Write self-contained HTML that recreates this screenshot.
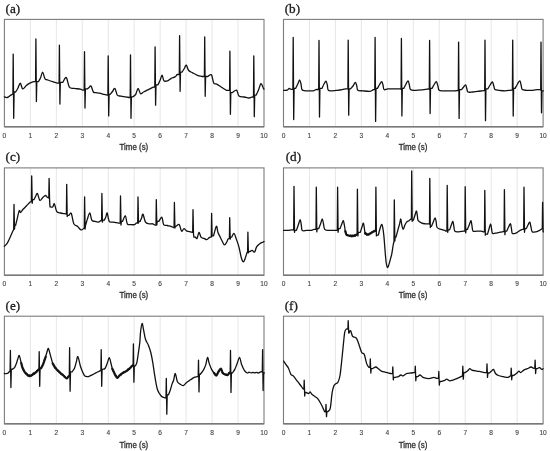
<!DOCTYPE html>
<html><head><meta charset="utf-8"><style>
html,body{margin:0;padding:0;background:#fff;}
svg{display:block;}
.gr{stroke:#e6e6e6;stroke-width:1;}
.fr{fill:none;stroke:#7c7c7c;stroke-width:1.1;}
.ax{stroke:#787878;stroke-width:1.5;}
.tk{font-family:"Liberation Sans",sans-serif;font-size:6.6px;fill:#444;stroke:#444;stroke-width:0.12;text-anchor:middle;}
.tt{font-family:"Liberation Sans",sans-serif;font-size:8.6px;fill:#333;stroke:#333;stroke-width:0.35;text-anchor:middle;}
.lb{font-family:"Liberation Serif",serif;font-size:13.2px;fill:#1a1a1a;stroke:#1a1a1a;stroke-width:0.3;}
.tr{fill:none;stroke:#111;stroke-width:1.3;stroke-linejoin:round;stroke-linecap:round;}
.nz{fill:none;stroke:#111;stroke-width:2.3;stroke-linejoin:round;stroke-linecap:round;opacity:0.9;}
</style></head><body>
<svg width="550" height="451" viewBox="0 0 550 451">
<line x1="30.36" y1="19.40" x2="30.36" y2="126.70" class="gr"/>
<line x1="56.32" y1="19.40" x2="56.32" y2="126.70" class="gr"/>
<line x1="82.28" y1="19.40" x2="82.28" y2="126.70" class="gr"/>
<line x1="108.24" y1="19.40" x2="108.24" y2="126.70" class="gr"/>
<line x1="134.20" y1="19.40" x2="134.20" y2="126.70" class="gr"/>
<line x1="160.16" y1="19.40" x2="160.16" y2="126.70" class="gr"/>
<line x1="186.12" y1="19.40" x2="186.12" y2="126.70" class="gr"/>
<line x1="212.08" y1="19.40" x2="212.08" y2="126.70" class="gr"/>
<line x1="238.04" y1="19.40" x2="238.04" y2="126.70" class="gr"/>
<rect x="4.40" y="19.40" width="259.60" height="107.30" class="fr"/>
<line x1="4.40" y1="126.70" x2="264.00" y2="126.70" class="ax"/>
<text x="4.40" y="138.00" class="tk">0</text>
<text x="30.36" y="138.00" class="tk">1</text>
<text x="56.32" y="138.00" class="tk">2</text>
<text x="82.28" y="138.00" class="tk">3</text>
<text x="108.24" y="138.00" class="tk">4</text>
<text x="134.20" y="138.00" class="tk">5</text>
<text x="160.16" y="138.00" class="tk">6</text>
<text x="186.12" y="138.00" class="tk">7</text>
<text x="212.08" y="138.00" class="tk">8</text>
<text x="238.04" y="138.00" class="tk">9</text>
<text x="264.00" y="138.00" class="tk">10</text>
<text x="133.90" y="150.40" class="tt" textLength="28.6" lengthAdjust="spacingAndGlyphs">Time (s)</text>
<text x="5.60" y="13.00" class="lb">(a)</text>
<path d="M4.30,96.80 C5.27,97.03 6.12,97.78 7.20,97.50 C8.28,97.22 9.87,95.68 10.80,95.10 C11.73,94.52 12.13,94.37 12.80,94.00 L12.90,94.00 L13.20,54.10 L13.70,118.30 L14.10,92.00 L15.60,92.00 C16.40,90.67 17.22,89.48 18.00,88.00 C18.78,86.52 19.52,82.95 20.30,83.10 C21.08,83.25 21.70,88.50 22.70,88.90 C23.70,89.30 25.10,86.47 26.30,85.50 C27.50,84.53 28.70,83.73 29.90,83.10 C31.10,82.47 32.30,82.17 33.50,81.70 L35.60,81.70 L35.90,39.00 L36.40,101.60 L36.80,81.70 L38.30,81.70 C39.03,80.47 39.78,79.60 40.50,78.00 C41.22,76.40 41.85,71.97 42.60,72.10 C43.35,72.23 44.12,77.48 45.00,78.80 C45.88,80.12 46.62,79.52 47.90,80.00 C49.18,80.48 51.12,81.18 52.70,81.70 C54.28,82.22 55.83,82.63 57.40,83.10 L59.10,83.10 L59.40,45.20 L59.90,104.00 L60.30,82.40 L62.70,82.40 C63.90,80.80 65.18,76.80 66.30,77.60 C67.42,78.40 68.08,85.40 69.40,87.20 C70.72,89.00 72.40,88.08 74.20,88.40 C76.00,88.72 78.80,88.82 80.20,89.10 C81.60,89.38 81.80,89.77 82.60,90.10 L84.20,90.10 L84.50,51.70 L85.00,108.00 L85.40,88.90 L87.40,88.90 C87.93,88.43 88.40,87.98 89.00,87.50 C89.60,87.02 90.27,85.25 91.00,86.00 C91.73,86.75 92.60,90.88 93.40,92.00 C94.20,93.12 94.80,92.50 95.80,92.70 C96.80,92.90 98.02,92.92 99.40,93.20 C100.78,93.48 102.83,94.08 104.10,94.40 C105.37,94.72 106.03,94.87 107.00,95.10 L107.90,95.10 L108.20,55.80 L108.70,115.90 L109.10,94.40 L110.10,94.40 C110.90,93.43 111.70,92.50 112.50,91.50 C113.30,90.50 114.10,87.80 114.90,88.40 C115.70,89.00 116.30,93.82 117.30,95.10 C118.30,96.38 119.50,95.82 120.90,96.10 C122.30,96.38 124.30,96.57 125.70,96.80 C127.10,97.03 128.10,97.27 129.30,97.50 L130.20,97.50 L130.50,54.80 L131.00,118.30 L131.40,96.80 L132.90,96.80 C133.83,96.00 134.83,95.80 135.70,94.40 C136.57,93.00 137.30,88.52 138.10,88.40 C138.90,88.28 139.58,93.10 140.50,93.70 C141.42,94.30 142.28,92.68 143.60,92.00 C144.92,91.32 146.80,90.40 148.40,89.60 C150.00,88.80 151.60,88.00 153.20,87.20 L154.80,87.20 L155.10,46.90 L155.60,105.20 L156.00,84.80 L158.00,84.80 C158.73,83.20 159.52,81.60 160.20,80.00 C160.88,78.40 161.47,75.07 162.10,75.20 C162.73,75.33 163.08,79.87 164.00,80.80 C164.92,81.73 166.40,81.20 167.60,80.80 C168.80,80.40 169.97,79.05 171.20,78.40 C172.43,77.75 174.00,77.55 175.00,76.90 C176.00,76.25 176.47,75.30 177.20,74.50 L179.30,74.50 L179.60,35.70 L180.10,91.30 L180.50,72.10 L182.00,72.10 C182.77,70.90 183.58,69.65 184.30,68.50 C185.02,67.35 185.57,64.87 186.30,65.20 C187.03,65.53 187.63,69.22 188.70,70.50 C189.77,71.78 191.23,72.10 192.70,72.90 C194.17,73.70 195.90,74.70 197.50,75.30 C199.10,75.90 200.70,76.10 202.30,76.50 L204.40,76.50 L204.70,36.90 L205.20,96.30 L205.60,76.50 L207.80,76.50 C209.00,75.93 210.40,73.68 211.40,74.80 C212.40,75.92 212.92,81.65 213.80,83.20 C214.68,84.75 215.42,83.43 216.70,84.10 C217.98,84.77 219.90,86.17 221.50,87.20 C223.10,88.23 224.70,89.27 226.30,90.30 L229.60,90.30 L229.90,51.20 L230.40,114.30 L230.80,92.70 L232.20,92.70 C233.67,91.83 235.47,89.53 236.60,90.10 C237.73,90.67 237.73,94.95 239.00,96.10 C240.27,97.25 242.53,96.68 244.20,97.00 C245.87,97.32 247.70,98.00 249.00,98.00 C250.30,98.00 251.00,97.33 252.00,97.00 L253.50,97.00 L253.80,55.80 L254.30,116.70 L254.70,95.10 L256.20,95.10 C256.97,93.40 257.70,91.92 258.50,90.00 C259.30,88.08 260.18,83.87 261.00,83.60 C261.82,83.33 262.90,87.50 263.40,88.40 C263.90,89.30 263.80,88.80 264.00,89.00" class="tr"/>
<line x1="309.46" y1="19.40" x2="309.46" y2="126.70" class="gr"/>
<line x1="335.42" y1="19.40" x2="335.42" y2="126.70" class="gr"/>
<line x1="361.38" y1="19.40" x2="361.38" y2="126.70" class="gr"/>
<line x1="387.34" y1="19.40" x2="387.34" y2="126.70" class="gr"/>
<line x1="413.30" y1="19.40" x2="413.30" y2="126.70" class="gr"/>
<line x1="439.26" y1="19.40" x2="439.26" y2="126.70" class="gr"/>
<line x1="465.22" y1="19.40" x2="465.22" y2="126.70" class="gr"/>
<line x1="491.18" y1="19.40" x2="491.18" y2="126.70" class="gr"/>
<line x1="517.14" y1="19.40" x2="517.14" y2="126.70" class="gr"/>
<rect x="283.50" y="19.40" width="259.60" height="107.30" class="fr"/>
<line x1="283.50" y1="126.70" x2="543.10" y2="126.70" class="ax"/>
<text x="283.50" y="138.00" class="tk">0</text>
<text x="309.46" y="138.00" class="tk">1</text>
<text x="335.42" y="138.00" class="tk">2</text>
<text x="361.38" y="138.00" class="tk">3</text>
<text x="387.34" y="138.00" class="tk">4</text>
<text x="413.30" y="138.00" class="tk">5</text>
<text x="439.26" y="138.00" class="tk">6</text>
<text x="465.22" y="138.00" class="tk">7</text>
<text x="491.18" y="138.00" class="tk">8</text>
<text x="517.14" y="138.00" class="tk">9</text>
<text x="543.10" y="138.00" class="tk">10</text>
<text x="413.00" y="150.40" class="tt" textLength="28.6" lengthAdjust="spacingAndGlyphs">Time (s)</text>
<text x="284.70" y="13.00" class="lb">(b)</text>
<path d="M283.60,90.30 C284.80,90.23 286.27,90.40 287.20,90.10 C288.13,89.80 288.65,88.65 289.20,88.50 C289.75,88.35 289.95,89.07 290.50,89.20 C291.05,89.33 291.83,89.27 292.50,89.30 L292.90,89.30 L293.20,37.40 L293.70,119.50 L294.10,88.40 L295.60,88.40 C296.33,86.93 297.13,85.40 297.80,84.00 C298.47,82.60 299.07,80.00 299.60,80.00 C300.13,80.00 300.60,82.40 301.00,84.00 C301.40,85.60 301.32,88.47 302.00,89.60 C302.68,90.73 303.98,90.60 305.10,90.80 C306.22,91.00 307.30,90.80 308.70,90.80 C310.10,90.80 312.30,91.00 313.50,90.80 C314.70,90.60 315.15,89.82 315.90,89.60 C316.65,89.38 317.30,89.53 318.00,89.50 L318.70,89.50 L319.00,40.50 L319.50,117.10 L319.90,88.40 L321.90,88.40 C322.60,86.93 323.32,85.20 324.00,84.00 C324.68,82.80 325.45,81.03 326.00,81.20 C326.55,81.37 326.92,83.48 327.30,85.00 C327.68,86.52 327.40,89.33 328.30,90.30 C329.20,91.27 331.18,90.80 332.70,90.80 C334.22,90.80 335.82,90.50 337.40,90.30 C338.98,90.10 340.80,89.83 342.20,89.60 C343.60,89.37 344.92,89.03 345.80,88.90 C346.68,88.77 346.93,88.83 347.50,88.80 L347.90,88.80 L348.20,40.20 L348.70,115.20 L349.10,88.90 L350.60,88.90 C351.40,87.93 352.20,87.08 353.00,86.00 C353.80,84.92 354.77,82.40 355.40,82.40 C356.03,82.40 356.40,84.68 356.80,86.00 C357.20,87.32 356.83,89.50 357.80,90.30 C358.77,91.10 360.57,90.63 362.60,90.80 C364.63,90.97 368.20,91.50 370.00,91.30 C371.80,91.10 372.27,90.17 373.40,89.60 L374.80,89.60 L375.10,37.40 L375.60,121.40 L376.00,88.40 L377.40,88.40 C378.13,87.10 378.87,85.62 379.60,84.50 C380.33,83.38 381.23,81.62 381.80,81.70 C382.37,81.78 382.62,83.68 383.00,85.00 C383.38,86.32 383.32,88.95 384.10,89.60 C384.88,90.25 386.30,89.02 387.70,88.90 C389.10,88.78 390.70,88.90 392.50,88.90 C394.30,88.90 397.17,88.88 398.50,88.90 C399.83,88.92 399.83,88.97 400.50,89.00 L401.10,89.00 L401.40,38.50 L401.90,115.90 L402.30,88.40 L403.80,88.40 C404.53,86.93 405.28,85.27 406.00,84.00 C406.72,82.73 407.53,80.63 408.10,80.80 C408.67,80.97 409.00,83.53 409.40,85.00 C409.80,86.47 409.52,88.72 410.50,89.60 C411.48,90.48 413.32,90.27 415.30,90.30 C417.28,90.33 420.42,90.00 422.40,89.80 C424.38,89.60 426.13,89.23 427.20,89.10 C428.27,88.97 428.27,89.03 428.80,89.00 L429.30,89.00 L429.60,40.50 L430.10,113.50 L430.50,88.40 L432.00,88.40 C432.73,87.10 433.48,85.62 434.20,84.50 C434.92,83.38 435.70,81.53 436.30,81.70 C436.90,81.87 437.32,84.07 437.80,85.50 C438.28,86.93 438.17,89.42 439.20,90.30 C440.23,91.18 442.00,90.72 444.00,90.80 C446.00,90.88 449.40,90.80 451.20,90.80 C453.00,90.80 453.70,90.85 454.80,90.80 C455.90,90.75 456.80,90.60 457.80,90.50 L458.30,90.50 L458.60,42.10 L459.10,118.40 L459.50,89.60 L461.50,89.60 C462.20,88.73 462.92,87.80 463.60,87.00 C464.28,86.20 465.07,84.55 465.60,84.80 C466.13,85.05 466.40,87.30 466.80,88.50 C467.20,89.70 467.02,91.42 468.00,92.00 C468.98,92.58 471.12,92.12 472.70,92.00 C474.28,91.88 475.90,91.50 477.50,91.30 C479.10,91.10 481.18,90.93 482.30,90.80 C483.42,90.67 483.57,90.60 484.20,90.50 L484.70,90.50 L485.00,40.20 L485.50,120.70 L485.90,88.90 L487.80,88.90 C488.57,87.60 489.33,86.15 490.10,85.00 C490.87,83.85 491.78,81.83 492.40,82.00 C493.02,82.17 493.37,84.73 493.80,86.00 C494.23,87.27 494.12,88.88 495.00,89.60 C495.88,90.32 497.42,90.10 499.10,90.30 C500.78,90.50 503.30,90.80 505.10,90.80 C506.90,90.80 508.75,90.43 509.90,90.30 C511.05,90.17 511.30,90.10 512.00,90.00 L512.40,90.00 L512.70,40.20 L513.20,116.00 L513.60,88.40 L515.10,88.40 C515.90,86.93 516.70,85.27 517.50,84.00 C518.30,82.73 519.28,80.55 519.90,80.80 C520.52,81.05 520.80,84.03 521.20,85.50 C521.60,86.97 521.40,88.80 522.30,89.60 C523.20,90.40 524.88,90.18 526.60,90.30 C528.32,90.42 530.80,90.42 532.60,90.30 C534.40,90.18 536.13,89.68 537.40,89.60 C538.67,89.52 539.27,89.73 540.20,89.80 L540.70,89.80 L541.00,42.10 L541.50,112.80 L541.90,90.80 L543.40,90.80" class="tr"/>
<line x1="30.36" y1="167.90" x2="30.36" y2="275.30" class="gr"/>
<line x1="56.32" y1="167.90" x2="56.32" y2="275.30" class="gr"/>
<line x1="82.28" y1="167.90" x2="82.28" y2="275.30" class="gr"/>
<line x1="108.24" y1="167.90" x2="108.24" y2="275.30" class="gr"/>
<line x1="134.20" y1="167.90" x2="134.20" y2="275.30" class="gr"/>
<line x1="160.16" y1="167.90" x2="160.16" y2="275.30" class="gr"/>
<line x1="186.12" y1="167.90" x2="186.12" y2="275.30" class="gr"/>
<line x1="212.08" y1="167.90" x2="212.08" y2="275.30" class="gr"/>
<line x1="238.04" y1="167.90" x2="238.04" y2="275.30" class="gr"/>
<rect x="4.40" y="167.90" width="259.60" height="107.40" class="fr"/>
<line x1="4.40" y1="275.30" x2="264.00" y2="275.30" class="ax"/>
<text x="4.40" y="285.70" class="tk">0</text>
<text x="30.36" y="285.70" class="tk">1</text>
<text x="56.32" y="285.70" class="tk">2</text>
<text x="82.28" y="285.70" class="tk">3</text>
<text x="108.24" y="285.70" class="tk">4</text>
<text x="134.20" y="285.70" class="tk">5</text>
<text x="160.16" y="285.70" class="tk">6</text>
<text x="186.12" y="285.70" class="tk">7</text>
<text x="212.08" y="285.70" class="tk">8</text>
<text x="238.04" y="285.70" class="tk">9</text>
<text x="264.00" y="285.70" class="tk">10</text>
<text x="133.90" y="298.10" class="tt" textLength="28.6" lengthAdjust="spacingAndGlyphs">Time (s)</text>
<text x="5.60" y="160.80" class="lb">(c)</text>
<path d="M4.40,246.30 C5.37,245.27 6.42,244.53 7.30,243.20 C8.18,241.87 8.90,240.03 9.70,238.30 C10.50,236.57 11.45,234.28 12.10,232.80 C12.75,231.32 13.10,230.53 13.60,229.40 L13.70,229.40 L14.00,204.40 L14.50,229.00 L14.90,225.00 L15.70,225.00 C16.27,222.60 16.80,220.22 17.40,217.80 C18.00,215.38 18.77,211.38 19.30,210.50 C19.83,209.62 19.98,212.70 20.60,212.50 C21.22,212.30 22.00,210.43 23.00,209.30 C24.00,208.17 25.40,206.90 26.60,205.70 C27.80,204.50 29.42,202.80 30.20,202.10 C30.98,201.40 30.93,201.70 31.30,201.50 L31.40,201.50 L31.70,175.90 L32.20,203.30 L32.60,199.60 L33.90,199.60 C34.53,198.40 35.20,197.00 35.80,196.00 C36.40,195.00 36.82,192.87 37.50,193.60 C38.18,194.33 38.98,199.80 39.90,200.40 C40.82,201.00 42.07,198.02 43.00,197.20 C43.93,196.38 44.80,195.50 45.50,195.50 C46.20,195.50 46.67,196.78 47.20,197.20 C47.73,197.62 48.20,197.73 48.70,198.00 L48.80,198.00 L49.10,178.30 L49.60,200.90 L50.00,206.90 L50.30,206.90 C51.10,206.90 52.02,207.42 52.70,206.90 C53.38,206.38 53.72,203.00 54.40,203.80 C55.08,204.60 55.78,210.17 56.80,211.70 C57.82,213.23 59.28,212.67 60.50,213.00 C61.72,213.33 63.13,213.53 64.10,213.70 C65.07,213.87 65.57,213.90 66.30,214.00 L66.40,214.00 L66.70,184.30 L67.20,216.60 L67.60,215.40 L68.90,215.40 C69.70,214.73 70.48,212.00 71.30,213.40 C72.12,214.80 72.78,221.65 73.80,223.80 C74.82,225.95 76.20,225.28 77.40,226.30 C78.60,227.32 80.00,229.50 81.00,229.90 C82.00,230.30 82.87,229.02 83.40,228.70 C83.93,228.38 83.93,228.23 84.20,228.00 L84.30,228.00 L84.60,196.90 L85.10,229.00 L85.50,225.00 L85.70,225.00 C86.27,223.00 86.72,221.00 87.40,219.00 C88.08,217.00 89.07,212.80 89.80,213.00 C90.53,213.20 90.98,218.80 91.80,220.20 C92.62,221.60 93.62,221.08 94.70,221.40 C95.78,221.72 97.30,222.22 98.30,222.10 C99.30,221.98 100.17,220.97 100.70,220.70 C101.23,220.43 101.23,220.57 101.50,220.50 L101.60,220.50 L101.90,193.50 L102.40,222.00 L102.80,220.20 L104.30,220.20 C104.80,219.13 105.32,218.20 105.80,217.00 C106.28,215.80 106.63,212.27 107.20,213.00 C107.77,213.73 108.27,219.88 109.20,221.40 C110.13,222.92 111.60,221.90 112.80,222.10 C114.00,222.30 115.38,222.43 116.40,222.60 C117.42,222.77 118.28,223.03 118.90,223.10 C119.52,223.17 119.70,223.03 120.10,223.00 L120.20,223.00 L120.50,195.90 L121.00,225.00 L121.40,221.40 L122.50,221.40 C123.47,219.57 124.60,215.50 125.40,215.90 C126.20,216.30 126.37,222.35 127.30,223.80 C128.23,225.25 129.78,224.47 131.00,224.60 C132.22,224.73 133.72,224.85 134.60,224.60 C135.48,224.35 135.80,223.37 136.30,223.10 C136.80,222.83 137.17,223.03 137.60,223.00 L137.70,223.00 L138.00,196.90 L138.50,223.10 L138.90,221.40 L140.10,221.40 C140.60,220.27 141.12,219.20 141.60,218.00 C142.08,216.80 142.35,213.52 143.00,214.20 C143.65,214.88 144.48,220.50 145.50,222.10 C146.52,223.70 147.90,223.52 149.10,223.80 C150.30,224.08 151.78,223.60 152.70,223.80 C153.62,224.00 154.07,224.80 154.60,225.00 C155.13,225.20 155.47,225.00 155.90,225.00 L156.00,225.00 L156.30,199.60 L156.80,225.00 L157.20,221.40 L158.80,221.40 C159.83,220.03 161.10,216.77 161.90,217.30 C162.70,217.83 162.72,223.23 163.60,224.60 C164.48,225.97 165.98,225.22 167.20,225.50 C168.42,225.78 169.88,225.97 170.90,226.30 C171.92,226.63 172.78,227.38 173.30,227.50 C173.82,227.62 173.77,227.17 174.00,227.00 L174.10,227.00 L174.40,202.50 L174.90,228.00 L175.30,226.30 L176.00,226.30 C177.07,225.73 178.27,223.80 179.20,224.60 C180.13,225.40 180.80,230.42 181.60,231.10 C182.40,231.78 183.12,228.70 184.00,228.70 C184.88,228.70 185.80,230.58 186.90,231.10 C188.00,231.62 189.72,231.60 190.60,231.80 C191.48,232.00 191.87,232.22 192.20,232.30 C192.53,232.38 192.47,232.30 192.60,232.30 L192.70,232.30 L193.00,209.70 L193.50,234.00 L193.90,237.10 L195.40,237.10 C195.97,237.50 196.50,239.10 197.10,238.30 C197.70,237.50 198.35,232.50 199.00,232.30 C199.65,232.10 200.18,236.10 201.00,237.10 C201.82,238.10 202.93,237.88 203.90,238.30 C204.87,238.72 205.92,239.72 206.80,239.60 C207.68,239.48 208.57,238.02 209.20,237.60 C209.83,237.18 210.27,237.20 210.60,237.10 C210.93,237.00 211.00,237.03 211.20,237.00 L211.30,237.00 L211.60,213.40 L212.10,236.00 L212.50,235.90 L213.50,235.90 C214.47,232.70 215.67,226.90 216.40,226.30 C217.13,225.70 217.37,230.70 217.90,232.30 C218.43,233.90 218.92,234.48 219.60,235.90 C220.28,237.32 221.20,239.30 222.00,240.80 C222.80,242.30 223.60,244.70 224.40,244.90 C225.20,245.10 226.20,242.97 226.80,242.00 C227.40,241.03 227.58,239.68 228.00,239.10 C228.42,238.52 228.87,238.70 229.30,238.50 L229.40,238.50 L229.70,217.70 L230.20,239.00 L230.60,237.10 L231.70,237.10 C232.50,235.90 233.30,233.08 234.10,233.50 C234.90,233.92 235.70,237.38 236.50,239.60 C237.30,241.82 238.10,243.78 238.90,246.80 C239.70,249.82 240.57,255.20 241.30,257.70 C242.03,260.20 242.68,261.60 243.30,261.80 C243.92,262.00 244.40,260.38 245.00,258.90 C245.60,257.42 246.48,253.97 246.90,252.90 C247.32,251.83 247.30,252.63 247.50,252.50 L247.60,252.50 L247.90,232.20 L248.40,252.90 L248.80,251.60 L249.80,251.60 C250.60,251.20 251.40,250.32 252.20,250.40 C253.00,250.48 253.87,252.70 254.60,252.10 C255.33,251.50 255.78,248.17 256.60,246.80 C257.42,245.43 258.42,244.70 259.50,243.90 C260.58,243.10 262.35,242.40 263.10,242.00 C263.85,241.60 263.70,241.67 264.00,241.50" class="tr"/>
<line x1="309.46" y1="167.90" x2="309.46" y2="275.30" class="gr"/>
<line x1="335.42" y1="167.90" x2="335.42" y2="275.30" class="gr"/>
<line x1="361.38" y1="167.90" x2="361.38" y2="275.30" class="gr"/>
<line x1="387.34" y1="167.90" x2="387.34" y2="275.30" class="gr"/>
<line x1="413.30" y1="167.90" x2="413.30" y2="275.30" class="gr"/>
<line x1="439.26" y1="167.90" x2="439.26" y2="275.30" class="gr"/>
<line x1="465.22" y1="167.90" x2="465.22" y2="275.30" class="gr"/>
<line x1="491.18" y1="167.90" x2="491.18" y2="275.30" class="gr"/>
<line x1="517.14" y1="167.90" x2="517.14" y2="275.30" class="gr"/>
<rect x="283.50" y="167.90" width="259.60" height="107.40" class="fr"/>
<line x1="283.50" y1="275.30" x2="543.10" y2="275.30" class="ax"/>
<text x="283.50" y="285.70" class="tk">0</text>
<text x="309.46" y="285.70" class="tk">1</text>
<text x="335.42" y="285.70" class="tk">2</text>
<text x="361.38" y="285.70" class="tk">3</text>
<text x="387.34" y="285.70" class="tk">4</text>
<text x="413.30" y="285.70" class="tk">5</text>
<text x="439.26" y="285.70" class="tk">6</text>
<text x="465.22" y="285.70" class="tk">7</text>
<text x="491.18" y="285.70" class="tk">8</text>
<text x="517.14" y="285.70" class="tk">9</text>
<text x="543.10" y="285.70" class="tk">10</text>
<text x="413.00" y="298.10" class="tt" textLength="28.6" lengthAdjust="spacingAndGlyphs">Time (s)</text>
<text x="285.70" y="160.80" class="lb">(d)</text>
<path d="M283.60,230.40 C284.83,230.40 285.88,230.48 287.30,230.40 C288.72,230.32 291.05,229.97 292.10,229.90 C293.15,229.83 293.10,229.97 293.60,230.00 L293.70,230.00 L294.00,186.30 L294.50,232.30 L294.90,230.40 L296.40,230.40 C297.03,228.60 297.68,226.78 298.30,225.00 C298.92,223.22 299.60,219.70 300.10,219.70 C300.60,219.70 300.95,223.22 301.30,225.00 C301.65,226.78 301.32,229.50 302.20,230.40 C303.08,231.30 305.07,230.40 306.60,230.40 C308.13,230.40 310.18,230.57 311.40,230.40 C312.62,230.23 313.15,229.58 313.90,229.40 C314.65,229.22 315.23,229.33 315.90,229.30 L316.00,229.30 L316.30,187.20 L316.80,231.80 L317.20,228.70 L318.70,228.70 C319.30,227.13 319.90,225.62 320.50,224.00 C321.10,222.38 321.80,219.00 322.30,219.00 C322.80,219.00 323.10,222.27 323.50,224.00 C323.90,225.73 323.88,228.33 324.70,229.40 C325.52,230.47 326.98,230.23 328.40,230.40 C329.82,230.57 332.00,230.40 333.20,230.40 C334.40,230.40 334.93,230.42 335.60,230.40 C336.27,230.38 336.67,230.33 337.20,230.30 L337.30,230.30 L337.60,187.20 L338.10,232.30 L338.50,228.70 L340.00,228.70 C340.60,227.13 341.23,225.33 341.80,224.00 C342.37,222.67 342.95,220.37 343.40,220.70 C343.85,221.03 344.18,224.27 344.50,226.00 C344.82,227.73 345.07,230.06 345.30,231.10 C345.53,232.14 345.70,231.64 345.90,232.24 C346.10,232.84 346.32,234.16 346.50,234.70 C346.68,235.24 346.80,235.35 346.95,235.48 C347.10,235.60 347.25,235.60 347.40,235.47 C347.55,235.35 347.70,234.74 347.85,234.71 C348.00,234.68 348.15,235.18 348.30,235.29 C348.45,235.40 348.60,235.26 348.75,235.36 C348.90,235.46 349.05,235.72 349.20,235.87 C349.35,236.02 349.50,236.27 349.65,236.27 C349.80,236.27 349.95,236.08 350.10,235.90 C350.25,235.72 350.41,235.31 350.56,235.17 C350.72,235.03 350.87,234.83 351.03,235.05 C351.18,235.27 351.33,236.38 351.49,236.50 C351.64,236.63 351.80,235.80 351.95,235.78 C352.10,235.76 352.26,236.50 352.41,236.37 C352.57,236.24 352.72,235.10 352.88,235.00 C353.03,234.91 353.18,235.65 353.34,235.80 C353.49,235.95 353.64,235.86 353.80,235.90 C353.96,235.94 354.12,236.22 354.28,236.06 C354.44,235.90 354.60,234.94 354.76,234.93 C354.92,234.92 355.08,235.86 355.24,235.98 C355.40,236.10 355.56,235.88 355.72,235.66 C355.88,235.45 355.99,234.89 356.20,234.70 C356.41,234.51 356.73,234.57 357.00,234.50 L357.10,234.50 L357.40,189.20 L357.90,235.90 L358.30,232.30 L360.30,232.30 C360.87,230.53 361.48,228.53 362.00,227.00 C362.52,225.47 363.02,222.93 363.40,223.10 C363.78,223.27 364.02,226.27 364.30,228.00 C364.58,229.73 364.89,232.70 365.10,233.50 C365.31,234.30 365.40,232.91 365.56,232.83 C365.71,232.74 365.86,232.78 366.01,232.99 C366.17,233.20 366.32,233.76 366.47,234.09 C366.62,234.42 366.78,234.97 366.93,234.98 C367.08,234.99 367.23,234.30 367.39,234.14 C367.54,233.98 367.69,233.93 367.84,234.02 C368.00,234.11 368.14,234.66 368.30,234.70 C368.46,234.74 368.63,234.50 368.80,234.26 C368.97,234.02 369.13,233.41 369.30,233.25 C369.47,233.09 369.63,233.28 369.80,233.30 C369.97,233.32 370.13,233.41 370.30,233.39 C370.47,233.37 370.63,233.35 370.80,233.19 C370.97,233.03 371.13,232.60 371.30,232.42 C371.47,232.24 371.63,232.14 371.80,232.12 C371.97,232.10 372.14,232.39 372.30,232.30 C372.46,232.21 372.62,231.65 372.78,231.55 C372.94,231.46 373.10,231.81 373.26,231.75 C373.42,231.69 373.58,231.41 373.74,231.20 C373.90,230.99 374.06,230.50 374.22,230.48 C374.38,230.46 374.49,231.01 374.70,231.10 C374.91,231.19 375.23,231.03 375.50,231.00 L375.60,231.00 L375.90,187.20 L376.40,235.90 L376.80,235.20 L378.30,235.20 C378.93,232.80 379.60,229.80 380.20,228.00 C380.80,226.20 381.43,224.23 381.90,224.40 C382.37,224.57 382.67,227.05 383.00,229.00 C383.33,230.95 383.62,233.27 383.90,236.10 C384.18,238.93 384.43,242.68 384.70,246.00 C384.97,249.32 385.23,253.08 385.50,256.00 C385.77,258.92 385.98,261.58 386.30,263.50 C386.62,265.42 387.03,267.12 387.40,267.50 C387.77,267.88 388.15,266.63 388.50,265.80 C388.85,264.97 389.13,263.80 389.50,262.50 C389.87,261.20 390.32,259.45 390.70,258.00 C391.08,256.55 391.38,255.97 391.80,253.80 C392.22,251.63 392.85,246.97 393.20,245.00 C393.55,243.03 393.67,243.00 393.90,242.00 L394.00,242.00 L394.30,200.00 L394.80,241.00 L395.20,237.10 L396.00,237.10 C396.53,235.10 397.00,233.32 397.60,231.10 C398.20,228.88 399.07,225.82 399.60,223.80 C400.13,221.78 400.43,218.80 400.80,219.00 C401.17,219.20 401.40,223.27 401.80,225.00 C402.20,226.73 402.68,229.40 403.20,229.40 C403.72,229.40 404.33,226.22 404.90,225.00 C405.47,223.78 405.92,222.82 406.60,222.10 C407.28,221.38 408.27,221.22 409.00,220.70 C409.73,220.18 410.62,219.28 411.00,219.00 C411.38,218.72 411.20,219.00 411.30,219.00 L411.40,219.00 L411.70,171.00 L412.20,221.40 L412.60,220.20 L413.40,220.20 C413.93,218.47 414.48,216.53 415.00,215.00 C415.52,213.47 416.10,210.83 416.50,211.00 C416.90,211.17 417.12,214.38 417.40,216.00 C417.68,217.62 417.47,219.52 418.20,220.70 C418.93,221.88 420.58,222.58 421.80,223.10 C423.02,223.62 424.40,223.68 425.50,223.80 C426.60,223.92 427.75,223.77 428.40,223.80 C429.05,223.83 429.07,223.93 429.40,224.00 L429.50,224.00 L429.80,178.30 L430.30,227.50 L430.70,226.30 L431.50,226.30 C432.10,224.87 432.70,223.42 433.30,222.00 C433.90,220.58 434.62,217.80 435.10,217.80 C435.58,217.80 435.87,220.38 436.20,222.00 C436.53,223.62 436.27,226.27 437.10,227.50 C437.93,228.73 439.92,228.92 441.20,229.40 C442.48,229.88 444.00,230.12 444.80,230.40 C445.60,230.68 445.67,231.00 446.00,231.10 C446.33,231.20 446.53,231.03 446.80,231.00 L446.90,231.00 L447.20,185.50 L447.70,232.30 L448.10,229.90 L449.60,229.90 C450.17,228.27 450.75,226.42 451.30,225.00 C451.85,223.58 452.48,221.23 452.90,221.40 C453.32,221.57 453.48,224.38 453.80,226.00 C454.12,227.62 454.02,230.13 454.80,231.10 C455.58,232.07 457.08,231.80 458.50,231.80 C459.92,231.80 462.25,231.23 463.30,231.10 C464.35,230.97 464.30,231.03 464.80,231.00 L464.90,231.00 L465.20,186.70 L465.70,232.80 L466.10,229.40 L467.40,229.40 C468.00,227.93 468.60,226.45 469.20,225.00 C469.80,223.55 470.53,220.53 471.00,220.70 C471.47,220.87 471.67,224.27 472.00,226.00 C472.33,227.73 472.23,230.25 473.00,231.10 C473.77,231.95 475.20,231.10 476.60,231.10 C478.00,231.10 480.27,230.98 481.40,231.10 C482.53,231.22 482.90,231.68 483.40,231.80 C483.90,231.92 484.07,231.80 484.40,231.80 L484.50,231.80 L484.80,190.40 L485.30,235.20 L485.70,234.20 L487.50,234.20 C488.00,232.47 488.48,230.73 489.00,229.00 C489.52,227.27 490.17,223.80 490.60,223.80 C491.03,223.80 491.27,227.38 491.60,229.00 C491.93,230.62 491.67,232.87 492.60,233.50 C493.53,234.13 495.63,233.08 497.20,232.80 C498.77,232.52 500.87,232.02 502.00,231.80 C503.13,231.58 503.33,231.60 504.00,231.50 L504.10,231.50 L504.40,189.60 L504.90,234.70 L505.30,231.10 L506.80,231.10 C507.40,229.73 507.98,228.22 508.60,227.00 C509.22,225.78 510.02,223.47 510.50,223.80 C510.98,224.13 511.18,227.38 511.50,229.00 C511.82,230.62 511.57,232.87 512.40,233.50 C513.23,234.13 515.22,233.32 516.50,232.80 C517.78,232.28 519.08,230.97 520.10,230.40 C521.12,229.83 522.02,229.58 522.60,229.40 C523.18,229.22 523.27,229.33 523.60,229.30 L523.70,229.30 L524.00,187.20 L524.50,232.30 L524.90,228.70 L526.20,228.70 C526.80,227.47 527.40,226.10 528.00,225.00 C528.60,223.90 529.30,221.77 529.80,222.10 C530.30,222.43 530.60,225.38 531.00,227.00 C531.40,228.62 531.38,231.00 532.20,231.80 C533.02,232.60 534.68,232.03 535.90,231.80 C537.12,231.57 538.50,230.92 539.50,230.40 C540.50,229.88 541.45,228.98 541.90,228.70 C542.35,228.42 542.10,228.70 542.20,228.70 L542.30,228.70 L542.60,202.50 L543.10,231.80 L543.50,231.80 L543.10,231.80" class="tr"/>
<path d="M345.30,231.10 C345.70,232.30 345.70,233.90 346.50,234.70 C347.30,235.50 348.88,235.70 350.10,235.90 C351.32,236.10 352.78,236.10 353.80,235.90 C354.82,235.70 355.80,234.90 356.20,234.70 C356.60,234.50 356.20,234.70 356.20,234.70" class="nz"/>
<path d="M365.10,233.50 C366.17,233.90 367.10,234.90 368.30,234.70 C369.50,234.50 371.23,232.90 372.30,232.30 C373.37,231.70 374.30,231.30 374.70,231.10 C375.10,230.90 374.70,231.10 374.70,231.10" class="nz"/>
<line x1="30.36" y1="316.20" x2="30.36" y2="423.80" class="gr"/>
<line x1="56.32" y1="316.20" x2="56.32" y2="423.80" class="gr"/>
<line x1="82.28" y1="316.20" x2="82.28" y2="423.80" class="gr"/>
<line x1="108.24" y1="316.20" x2="108.24" y2="423.80" class="gr"/>
<line x1="134.20" y1="316.20" x2="134.20" y2="423.80" class="gr"/>
<line x1="160.16" y1="316.20" x2="160.16" y2="423.80" class="gr"/>
<line x1="186.12" y1="316.20" x2="186.12" y2="423.80" class="gr"/>
<line x1="212.08" y1="316.20" x2="212.08" y2="423.80" class="gr"/>
<line x1="238.04" y1="316.20" x2="238.04" y2="423.80" class="gr"/>
<rect x="4.40" y="316.20" width="259.60" height="107.60" class="fr"/>
<line x1="4.40" y1="423.80" x2="264.00" y2="423.80" class="ax"/>
<text x="4.40" y="435.10" class="tk">0</text>
<text x="30.36" y="435.10" class="tk">1</text>
<text x="56.32" y="435.10" class="tk">2</text>
<text x="82.28" y="435.10" class="tk">3</text>
<text x="108.24" y="435.10" class="tk">4</text>
<text x="134.20" y="435.10" class="tk">5</text>
<text x="160.16" y="435.10" class="tk">6</text>
<text x="186.12" y="435.10" class="tk">7</text>
<text x="212.08" y="435.10" class="tk">8</text>
<text x="238.04" y="435.10" class="tk">9</text>
<text x="264.00" y="435.10" class="tk">10</text>
<text x="133.90" y="447.50" class="tt" textLength="28.6" lengthAdjust="spacingAndGlyphs">Time (s)</text>
<text x="5.60" y="309.80" class="lb">(e)</text>
<path d="M4.40,373.50 C5.37,373.50 6.50,373.78 7.30,373.50 C8.10,373.22 8.75,372.22 9.20,371.80 C9.65,371.38 9.73,371.27 10.00,371.00 L10.10,371.00 L10.40,350.50 L10.90,387.60 L11.30,369.40 L12.10,369.40 C12.90,368.83 13.78,368.70 14.50,367.70 C15.22,366.70 15.85,364.85 16.40,363.40 C16.95,361.95 17.32,360.30 17.80,359.00 C18.28,357.70 18.73,354.93 19.30,355.60 C19.87,356.27 20.81,361.60 21.20,363.00 C21.59,364.40 21.51,363.35 21.67,364.01 C21.82,364.67 21.98,366.29 22.13,366.96 C22.29,367.62 22.45,367.60 22.60,368.00 C22.75,368.40 22.91,369.12 23.06,369.33 C23.21,369.55 23.37,369.07 23.52,369.28 C23.67,369.49 23.83,370.23 23.98,370.57 C24.13,370.92 24.29,371.06 24.44,371.35 C24.59,371.64 24.74,372.01 24.90,372.30 C25.06,372.59 25.25,372.85 25.42,373.11 C25.59,373.38 25.77,373.89 25.94,373.90 C26.11,373.91 26.29,373.24 26.46,373.19 C26.63,373.14 26.81,373.31 26.98,373.61 C27.15,373.91 27.34,374.63 27.50,375.00 C27.66,375.37 27.81,375.76 27.96,375.80 C28.11,375.85 28.27,375.23 28.42,375.28 C28.57,375.32 28.73,376.13 28.88,376.07 C29.03,376.01 29.19,374.92 29.34,374.90 C29.49,374.89 29.64,375.87 29.80,376.00 C29.96,376.13 30.12,375.68 30.28,375.66 C30.44,375.65 30.60,376.06 30.76,375.92 C30.92,375.77 31.08,374.80 31.24,374.79 C31.40,374.78 31.56,375.84 31.72,375.84 C31.88,375.84 32.04,374.91 32.20,374.80 C32.36,374.69 32.51,375.46 32.66,375.21 C32.82,374.97 32.97,373.70 33.12,373.33 C33.28,372.96 33.43,372.96 33.59,373.01 C33.74,373.06 33.90,373.45 34.05,373.62 C34.20,373.79 34.36,374.18 34.51,374.03 C34.67,373.88 34.82,373.03 34.98,372.71 C35.13,372.39 35.28,372.17 35.44,372.10 C35.59,372.03 35.74,372.37 35.90,372.30 C36.06,372.23 36.22,371.98 36.38,371.68 C36.54,371.38 36.70,370.71 36.86,370.49 C37.02,370.27 37.18,370.40 37.34,370.36 C37.50,370.32 37.66,370.34 37.82,370.27 C37.98,370.19 38.18,370.00 38.30,369.90 C38.42,369.80 38.47,369.76 38.55,369.69 C38.63,369.63 38.72,369.56 38.80,369.50 L38.90,369.50 L39.20,351.70 L39.70,386.30 L40.10,368.20 L41.10,368.20 C41.26,367.74 41.42,367.20 41.58,366.82 C41.73,366.44 41.89,366.22 42.05,365.92 C42.21,365.61 42.37,365.21 42.52,364.99 C42.68,364.77 42.84,364.92 43.00,364.60 C43.16,364.28 43.33,363.62 43.50,363.07 C43.67,362.52 43.83,361.92 44.00,361.30 C44.17,360.68 44.33,359.68 44.50,359.36 C44.67,359.04 44.83,359.71 45.00,359.37 C45.17,359.02 45.17,358.53 45.50,357.30 C45.83,356.07 46.52,353.48 47.00,352.00 C47.48,350.52 47.85,347.92 48.40,348.40 C48.95,348.88 49.58,352.40 50.30,354.90 C51.02,357.40 52.22,361.83 52.70,363.40 C53.18,364.97 53.02,363.99 53.18,364.30 C53.34,364.61 53.51,365.10 53.67,365.26 C53.83,365.41 53.99,364.86 54.15,365.23 C54.31,365.61 54.47,367.02 54.63,367.49 C54.79,367.96 54.96,367.93 55.12,368.05 C55.28,368.17 55.44,368.21 55.60,368.20 C55.76,368.19 55.90,367.87 56.05,367.97 C56.20,368.07 56.35,368.47 56.50,368.80 C56.65,369.13 56.80,369.69 56.95,369.95 C57.10,370.21 57.25,370.17 57.40,370.38 C57.55,370.59 57.70,371.17 57.85,371.24 C58.00,371.30 58.15,370.64 58.30,370.76 C58.45,370.88 58.60,371.77 58.75,371.94 C58.90,372.12 59.05,371.70 59.20,371.80 C59.35,371.90 59.51,372.44 59.67,372.52 C59.82,372.60 59.98,372.16 60.13,372.27 C60.29,372.38 60.44,372.88 60.60,373.19 C60.76,373.50 60.91,373.92 61.07,374.13 C61.22,374.35 61.38,374.45 61.53,374.48 C61.69,374.50 61.84,374.22 62.00,374.28 C62.16,374.34 62.31,374.84 62.47,374.84 C62.62,374.83 62.78,374.14 62.93,374.25 C63.09,374.36 63.24,375.29 63.40,375.50 C63.56,375.71 63.74,375.27 63.92,375.52 C64.09,375.77 64.26,376.79 64.43,377.00 C64.61,377.21 64.78,376.82 64.95,376.80 C65.12,376.77 65.29,376.64 65.47,376.84 C65.64,377.05 65.81,377.75 65.98,378.00 C66.16,378.26 66.33,378.34 66.50,378.40 C66.67,378.46 66.82,378.43 66.97,378.34 C67.13,378.25 67.29,378.10 67.45,377.86 C67.61,377.62 67.77,377.09 67.93,376.90 C68.08,376.71 68.25,376.81 68.40,376.70 C68.55,376.59 68.67,376.36 68.80,376.24 C68.93,376.12 69.07,376.08 69.20,376.00 L69.30,376.00 L69.60,347.60 L70.10,391.20 L70.50,371.80 L72.10,371.80 C72.90,370.60 73.80,369.83 74.50,368.20 C75.20,366.57 75.73,363.93 76.30,362.00 C76.87,360.07 77.23,355.97 77.90,356.60 C78.57,357.23 79.62,363.48 80.30,365.80 C80.98,368.12 81.33,368.90 82.00,370.50 C82.67,372.10 83.65,374.42 84.30,375.40 C84.95,376.38 85.20,376.20 85.90,376.40 C86.60,376.60 87.45,376.87 88.50,376.60 C89.55,376.33 90.97,375.42 92.20,374.80 C93.43,374.18 94.68,373.52 95.90,372.90 C97.12,372.28 98.68,371.50 99.50,371.10 C100.32,370.70 100.37,370.70 100.80,370.50 L100.90,370.50 L101.20,349.70 L101.70,386.30 L102.10,369.30 L102.60,369.30 C103.40,369.03 104.22,369.55 105.00,368.50 C105.78,367.45 106.58,364.80 107.30,363.00 C108.02,361.20 108.68,357.62 109.30,357.70 C109.92,357.78 110.50,361.67 111.00,363.50 C111.50,365.33 112.00,367.64 112.30,368.70 C112.60,369.76 112.64,369.38 112.82,369.83 C112.99,370.29 113.16,371.06 113.33,371.43 C113.51,371.81 113.68,371.83 113.85,372.09 C114.02,372.34 114.19,372.61 114.37,372.97 C114.54,373.34 114.71,373.86 114.88,374.26 C115.06,374.67 115.21,375.22 115.40,375.40 C115.59,375.58 115.80,375.22 116.00,375.35 C116.20,375.48 116.40,375.77 116.60,376.18 C116.80,376.59 117.00,377.57 117.20,377.80 C117.40,378.03 117.60,377.62 117.80,377.57 C118.00,377.51 118.20,377.73 118.40,377.47 C118.60,377.21 118.82,376.28 119.00,376.00 C119.18,375.72 119.31,375.94 119.46,375.78 C119.62,375.62 119.77,375.29 119.92,375.03 C120.08,374.78 120.23,374.34 120.39,374.24 C120.54,374.15 120.70,374.34 120.85,374.45 C121.00,374.57 121.16,374.98 121.31,374.93 C121.47,374.88 121.62,374.42 121.78,374.16 C121.93,373.90 122.08,373.57 122.24,373.36 C122.39,373.15 122.54,372.91 122.70,372.90 C122.86,372.89 123.04,373.46 123.21,373.29 C123.39,373.13 123.56,372.09 123.73,371.90 C123.90,371.71 124.07,372.02 124.24,372.15 C124.41,372.28 124.59,372.75 124.76,372.69 C124.93,372.62 125.10,371.99 125.27,371.75 C125.44,371.52 125.61,371.39 125.79,371.28 C125.96,371.17 126.14,371.26 126.30,371.10 C126.46,370.94 126.61,370.41 126.76,370.30 C126.92,370.18 127.07,370.33 127.22,370.41 C127.38,370.49 127.53,371.05 127.69,370.76 C127.84,370.47 128.00,368.84 128.15,368.66 C128.30,368.48 128.46,369.56 128.61,369.67 C128.77,369.79 128.92,369.45 129.07,369.35 C129.23,369.25 129.38,369.31 129.54,369.08 C129.69,368.86 129.84,368.19 130.00,368.00 C130.16,367.81 130.32,368.02 130.48,367.95 C130.64,367.89 130.80,367.82 130.96,367.60 C131.12,367.37 131.28,366.83 131.44,366.59 C131.60,366.36 131.76,366.36 131.92,366.19 C132.08,366.02 132.27,365.75 132.40,365.60 C132.53,365.45 132.60,365.37 132.70,365.32 C132.80,365.27 132.90,365.31 133.00,365.30 L133.10,365.30 L133.40,343.90 L133.90,382.20 L134.30,366.20 L134.90,366.20 C135.50,365.20 136.10,365.53 136.70,363.20 C137.30,360.87 137.98,355.67 138.50,352.20 C139.02,348.73 139.45,345.85 139.80,342.40 C140.15,338.95 140.22,334.65 140.60,331.50 C140.98,328.35 141.62,323.83 142.10,323.50 C142.58,323.17 142.93,326.88 143.50,329.50 C144.07,332.12 144.68,336.58 145.50,339.20 C146.32,341.82 147.52,342.98 148.40,345.20 C149.28,347.42 150.08,349.67 150.80,352.50 C151.52,355.33 151.98,357.97 152.70,362.20 C153.42,366.43 154.28,373.27 155.10,377.90 C155.92,382.53 156.58,386.98 157.60,390.00 C158.62,393.02 160.08,394.72 161.20,396.00 C162.32,397.28 163.52,397.37 164.30,397.70 C165.08,398.03 165.37,397.90 165.90,398.00 L166.00,398.00 L166.30,378.30 L166.80,414.20 L167.20,394.80 L168.40,394.80 C168.93,393.53 169.38,392.82 170.00,391.00 C170.62,389.18 171.50,385.68 172.10,383.90 C172.70,382.12 173.07,382.03 173.60,380.30 C174.13,378.57 174.68,373.30 175.30,373.50 C175.92,373.70 176.57,379.77 177.30,381.50 C178.03,383.23 178.70,383.22 179.70,383.90 C180.70,384.58 182.10,385.88 183.30,385.60 C184.50,385.32 185.68,383.17 186.90,382.20 C188.12,381.23 189.38,380.60 190.60,379.80 C191.82,379.00 193.12,377.92 194.20,377.40 C195.28,376.88 196.45,376.85 197.10,376.70 C197.75,376.55 197.77,376.57 198.10,376.50 L198.20,376.50 L198.50,360.10 L199.00,391.90 L199.40,374.30 L200.20,374.30 C201.27,372.90 202.47,371.72 203.40,370.10 C204.33,368.48 205.12,366.73 205.80,364.60 C206.48,362.47 206.93,357.50 207.50,357.30 C208.07,357.10 208.52,361.38 209.20,363.40 C209.88,365.42 210.80,367.80 211.60,369.40 C212.40,371.00 213.52,372.45 214.00,373.00 C214.48,373.55 214.32,372.42 214.48,372.70 C214.64,372.98 214.80,374.35 214.96,374.67 C215.12,374.99 215.28,374.66 215.44,374.63 C215.60,374.59 215.76,374.31 215.92,374.46 C216.08,374.61 216.24,375.48 216.40,375.50 C216.56,375.52 216.73,374.90 216.90,374.58 C217.07,374.27 217.23,373.98 217.40,373.62 C217.57,373.27 217.73,372.77 217.90,372.47 C218.07,372.16 218.24,372.06 218.40,371.80 C218.56,371.54 218.72,371.10 218.88,370.90 C219.04,370.71 219.20,370.75 219.36,370.63 C219.52,370.51 219.68,370.35 219.84,370.16 C220.00,369.98 220.16,369.77 220.32,369.52 C220.48,369.28 220.64,368.67 220.80,368.70 C220.96,368.73 221.12,369.48 221.28,369.70 C221.43,369.92 221.59,369.71 221.75,370.00 C221.91,370.29 222.07,370.94 222.22,371.44 C222.38,371.94 222.54,372.79 222.70,373.00 C222.86,373.21 223.02,372.57 223.18,372.68 C223.34,372.79 223.50,373.38 223.66,373.67 C223.82,373.96 223.98,374.28 224.14,374.43 C224.30,374.58 224.46,374.60 224.62,374.58 C224.78,374.56 224.94,374.23 225.10,374.30 C225.26,374.37 225.43,374.83 225.60,374.97 C225.77,375.12 225.93,375.27 226.10,375.15 C226.27,375.03 226.43,374.23 226.60,374.28 C226.77,374.33 226.93,375.36 227.10,375.48 C227.27,375.60 227.42,375.14 227.60,375.00 C227.78,374.86 227.98,374.99 228.17,374.64 C228.36,374.30 228.54,373.19 228.73,372.92 C228.92,372.64 229.14,373.13 229.30,373.00 C229.46,372.87 229.57,372.13 229.70,372.13 C229.83,372.13 229.97,372.71 230.10,373.00 L230.20,373.00 L230.50,350.50 L231.00,392.40 L231.40,373.00 L232.40,373.00 C233.20,371.80 234.00,371.00 234.80,369.40 C235.60,367.80 236.40,365.42 237.20,363.40 C238.00,361.38 238.87,357.10 239.60,357.30 C240.33,357.50 240.78,362.38 241.60,364.60 C242.42,366.82 243.53,369.20 244.50,370.60 C245.47,372.00 246.65,372.73 247.40,373.00 C248.15,373.27 248.40,372.23 249.00,372.20 C249.60,372.17 250.33,372.77 251.00,372.80 C251.67,372.83 252.40,372.38 253.00,372.40 C253.60,372.42 254.02,372.92 254.60,372.90 C255.18,372.88 255.88,372.28 256.50,372.30 C257.12,372.32 257.60,373.08 258.30,373.00 C259.00,372.92 260.05,371.97 260.70,371.80 C261.35,371.63 261.70,371.93 262.20,372.00 L262.30,372.00 L262.60,349.70 L263.10,390.50 L263.50,373.00 L264.30,373.00" class="tr"/>
<path d="M21.20,363.00 C21.67,364.67 21.98,366.45 22.60,368.00 C23.22,369.55 24.08,371.13 24.90,372.30 C25.72,373.47 26.68,374.38 27.50,375.00 C28.32,375.62 29.02,376.03 29.80,376.00 C30.58,375.97 31.18,375.42 32.20,374.80 C33.22,374.18 34.88,373.12 35.90,372.30 C36.92,371.48 37.82,370.37 38.30,369.90 C38.78,369.43 38.72,369.57 38.80,369.50 C38.88,369.43 38.80,369.50 38.80,369.50" class="nz"/>
<path d="M41.10,368.20 C41.73,367.00 42.27,366.42 43.00,364.60 C43.73,362.78 45.08,358.52 45.50,357.30 C45.92,356.08 45.50,357.30 45.50,357.30" class="nz"/>
<path d="M52.70,363.40 C53.67,365.00 54.52,366.80 55.60,368.20 C56.68,369.60 57.90,370.58 59.20,371.80 C60.50,373.02 62.18,374.40 63.40,375.50 C64.62,376.60 65.67,378.20 66.50,378.40 C67.33,378.60 67.95,377.10 68.40,376.70 C68.85,376.30 69.07,376.12 69.20,376.00 C69.33,375.88 69.20,376.00 69.20,376.00" class="nz"/>
<path d="M112.30,368.70 C113.33,370.93 114.58,373.88 115.40,375.40 C116.22,376.92 116.60,377.70 117.20,377.80 C117.80,377.90 118.08,376.82 119.00,376.00 C119.92,375.18 121.48,373.72 122.70,372.90 C123.92,372.08 125.08,371.92 126.30,371.10 C127.52,370.28 128.98,368.92 130.00,368.00 C131.02,367.08 131.90,366.05 132.40,365.60 C132.90,365.15 132.90,365.35 133.00,365.30 C133.10,365.25 133.00,365.30 133.00,365.30" class="nz"/>
<path d="M214.00,373.00 C214.80,373.83 215.67,375.70 216.40,375.50 C217.13,375.30 217.67,372.93 218.40,371.80 C219.13,370.67 220.08,368.50 220.80,368.70 C221.52,368.90 221.98,372.07 222.70,373.00 C223.42,373.93 224.28,373.97 225.10,374.30 C225.92,374.63 226.90,375.22 227.60,375.00 C228.30,374.78 228.88,373.33 229.30,373.00 C229.72,372.67 229.97,373.00 230.10,373.00 C230.23,373.00 230.10,373.00 230.10,373.00" class="nz"/>
<line x1="309.46" y1="316.20" x2="309.46" y2="423.80" class="gr"/>
<line x1="335.42" y1="316.20" x2="335.42" y2="423.80" class="gr"/>
<line x1="361.38" y1="316.20" x2="361.38" y2="423.80" class="gr"/>
<line x1="387.34" y1="316.20" x2="387.34" y2="423.80" class="gr"/>
<line x1="413.30" y1="316.20" x2="413.30" y2="423.80" class="gr"/>
<line x1="439.26" y1="316.20" x2="439.26" y2="423.80" class="gr"/>
<line x1="465.22" y1="316.20" x2="465.22" y2="423.80" class="gr"/>
<line x1="491.18" y1="316.20" x2="491.18" y2="423.80" class="gr"/>
<line x1="517.14" y1="316.20" x2="517.14" y2="423.80" class="gr"/>
<rect x="283.50" y="316.20" width="259.60" height="107.60" class="fr"/>
<line x1="283.50" y1="423.80" x2="543.10" y2="423.80" class="ax"/>
<text x="283.50" y="435.10" class="tk">0</text>
<text x="309.46" y="435.10" class="tk">1</text>
<text x="335.42" y="435.10" class="tk">2</text>
<text x="361.38" y="435.10" class="tk">3</text>
<text x="387.34" y="435.10" class="tk">4</text>
<text x="413.30" y="435.10" class="tk">5</text>
<text x="439.26" y="435.10" class="tk">6</text>
<text x="465.22" y="435.10" class="tk">7</text>
<text x="491.18" y="435.10" class="tk">8</text>
<text x="517.14" y="435.10" class="tk">9</text>
<text x="543.10" y="435.10" class="tk">10</text>
<text x="413.00" y="447.50" class="tt" textLength="28.6" lengthAdjust="spacingAndGlyphs">Time (s)</text>
<text x="284.70" y="309.80" class="lb">(f)</text>
<path d="M283.60,361.00 C284.40,362.20 285.18,363.40 286.00,364.60 C286.82,365.80 287.68,366.58 288.50,368.20 C289.32,369.82 290.10,373.02 290.90,374.30 C291.70,375.58 292.50,375.10 293.30,375.90 C294.10,376.70 294.90,378.05 295.70,379.10 C296.50,380.15 297.17,381.00 298.10,382.20 C299.03,383.40 300.48,385.20 301.30,386.30 C302.12,387.40 302.58,388.35 303.00,388.80 C303.42,389.25 303.53,388.93 303.80,389.00 L303.90,389.00 L304.20,380.20 L304.70,396.00 L305.10,392.40 L306.10,392.40 C306.90,392.80 307.82,393.68 308.50,393.60 C309.18,393.52 309.63,391.78 310.20,391.90 C310.77,392.02 311.08,393.50 311.90,394.30 C312.72,395.10 314.17,396.02 315.10,396.70 C316.03,397.38 316.58,397.30 317.50,398.40 C318.42,399.50 319.68,401.68 320.60,403.30 C321.52,404.92 322.32,406.70 323.00,408.10 C323.68,409.50 324.27,411.22 324.70,411.70 C325.13,412.18 325.30,411.23 325.60,411.00 L325.70,411.00 L326.00,404.40 L326.50,416.60 L326.90,411.70 L327.90,411.70 C328.70,410.50 329.62,411.12 330.30,408.10 C330.98,405.08 331.43,397.23 332.00,393.60 C332.57,389.97 333.10,387.92 333.70,386.30 C334.30,384.68 334.88,384.58 335.60,383.90 C336.32,383.22 337.27,383.60 338.00,382.20 C338.73,380.80 339.38,379.03 340.00,375.50 C340.62,371.97 341.13,366.25 341.70,361.00 C342.27,355.75 342.88,348.85 343.40,344.00 C343.92,339.15 344.28,334.40 344.80,331.90 C345.32,329.40 346.00,329.48 346.50,329.00 C347.00,328.52 347.37,329.00 347.80,329.00 L347.90,329.00 L348.20,320.70 L348.70,333.00 L349.10,333.10 L348.90,333.10 C349.47,332.30 349.98,330.17 350.60,330.70 C351.22,331.23 351.67,335.08 352.60,336.30 C353.53,337.52 355.20,336.80 356.20,338.00 C357.20,339.20 357.68,341.08 358.60,343.50 C359.52,345.92 360.77,350.72 361.70,352.50 C362.63,354.28 363.38,352.38 364.20,354.20 C365.02,356.02 365.87,361.27 366.60,363.40 C367.33,365.53 368.05,366.32 368.60,367.00 C369.15,367.68 369.47,367.33 369.90,367.50 L370.00,367.50 L370.30,358.90 L370.80,373.00 L371.20,368.70 L372.30,368.70 C373.50,368.13 374.90,367.00 375.90,367.00 C376.90,367.00 377.38,368.02 378.30,368.70 C379.22,369.38 380.18,370.50 381.40,371.10 C382.62,371.70 384.10,371.90 385.60,372.30 C387.10,372.70 389.27,373.30 390.40,373.50 C391.53,373.70 391.73,373.50 392.40,373.50 L392.50,373.50 L392.80,366.90 L393.30,379.80 L393.70,377.40 L395.20,377.40 C396.27,377.17 397.47,377.10 398.40,376.70 C399.33,376.30 400.00,375.13 400.80,375.00 C401.60,374.87 402.23,376.15 403.20,375.90 C404.17,375.65 405.30,373.98 406.60,373.50 C407.90,373.02 409.87,373.15 411.00,373.00 C412.13,372.85 412.75,372.67 413.40,372.60 C414.05,372.53 414.40,372.60 414.90,372.60 L415.00,372.60 L415.30,366.20 L415.80,380.80 L416.20,376.70 L417.70,376.70 C418.50,376.13 419.22,374.88 420.10,375.00 C420.98,375.12 421.90,376.83 423.00,377.40 C424.10,377.97 425.48,378.23 426.70,378.40 C427.92,378.57 429.10,378.57 430.30,378.40 C431.50,378.23 432.77,377.40 433.90,377.40 C435.03,377.40 436.35,378.23 437.10,378.40 C437.85,378.57 437.97,378.40 438.40,378.40 L438.50,378.40 L438.80,371.50 L439.30,385.10 L439.70,381.50 L441.20,381.50 C442.40,381.10 443.88,380.70 444.80,380.30 C445.72,379.90 445.90,379.02 446.70,379.10 C447.50,379.18 448.45,380.68 449.60,380.80 C450.75,380.92 452.32,380.20 453.60,379.80 C454.88,379.40 456.08,378.92 457.30,378.40 C458.52,377.88 460.05,377.10 460.90,376.70 C461.75,376.30 461.90,376.23 462.40,376.00 L462.50,376.00 L462.80,366.20 L463.30,379.10 L463.70,372.60 L465.00,372.60 C465.80,372.10 466.60,371.75 467.40,371.10 C468.20,370.45 469.07,368.87 469.80,368.70 C470.53,368.53 470.67,369.70 471.80,370.10 C472.93,370.50 475.00,370.82 476.60,371.10 C478.20,371.38 479.98,371.55 481.40,371.80 C482.82,372.05 484.23,372.47 485.10,372.60 C485.97,372.73 486.10,372.60 486.60,372.60 L486.70,372.60 L487.00,363.80 L487.50,377.40 L487.90,373.00 L489.20,373.00 C490.00,372.37 490.88,371.70 491.60,371.10 C492.32,370.50 492.85,369.00 493.50,369.40 C494.15,369.80 494.68,372.48 495.50,373.50 C496.32,374.52 497.12,374.97 498.40,375.50 C499.68,376.03 501.60,376.38 503.20,376.70 C504.80,377.02 506.87,377.52 508.00,377.40 C509.13,377.28 509.53,376.23 510.00,376.00 C510.47,375.77 510.53,376.00 510.80,376.00 L510.90,376.00 L511.20,368.10 L511.70,379.80 L512.10,375.50 L513.40,375.50 C514.43,374.83 515.58,374.23 516.50,373.50 C517.42,372.77 518.22,371.25 518.90,371.10 C519.58,370.95 519.78,372.77 520.60,372.60 C521.42,372.43 522.67,370.75 523.80,370.10 C524.93,369.45 526.20,369.22 527.40,368.70 C528.60,368.18 530.00,367.08 531.00,367.00 C532.00,366.92 532.78,368.00 533.40,368.20 C534.02,368.40 534.27,368.20 534.70,368.20 L534.80,368.20 L535.10,360.10 L535.60,373.50 L536.00,368.70 L537.10,368.70 C537.90,368.37 538.70,367.58 539.50,367.70 C540.30,367.82 541.30,369.23 541.90,369.40 C542.50,369.57 542.70,368.93 543.10,368.70" class="tr"/>
</svg>
</body></html>
